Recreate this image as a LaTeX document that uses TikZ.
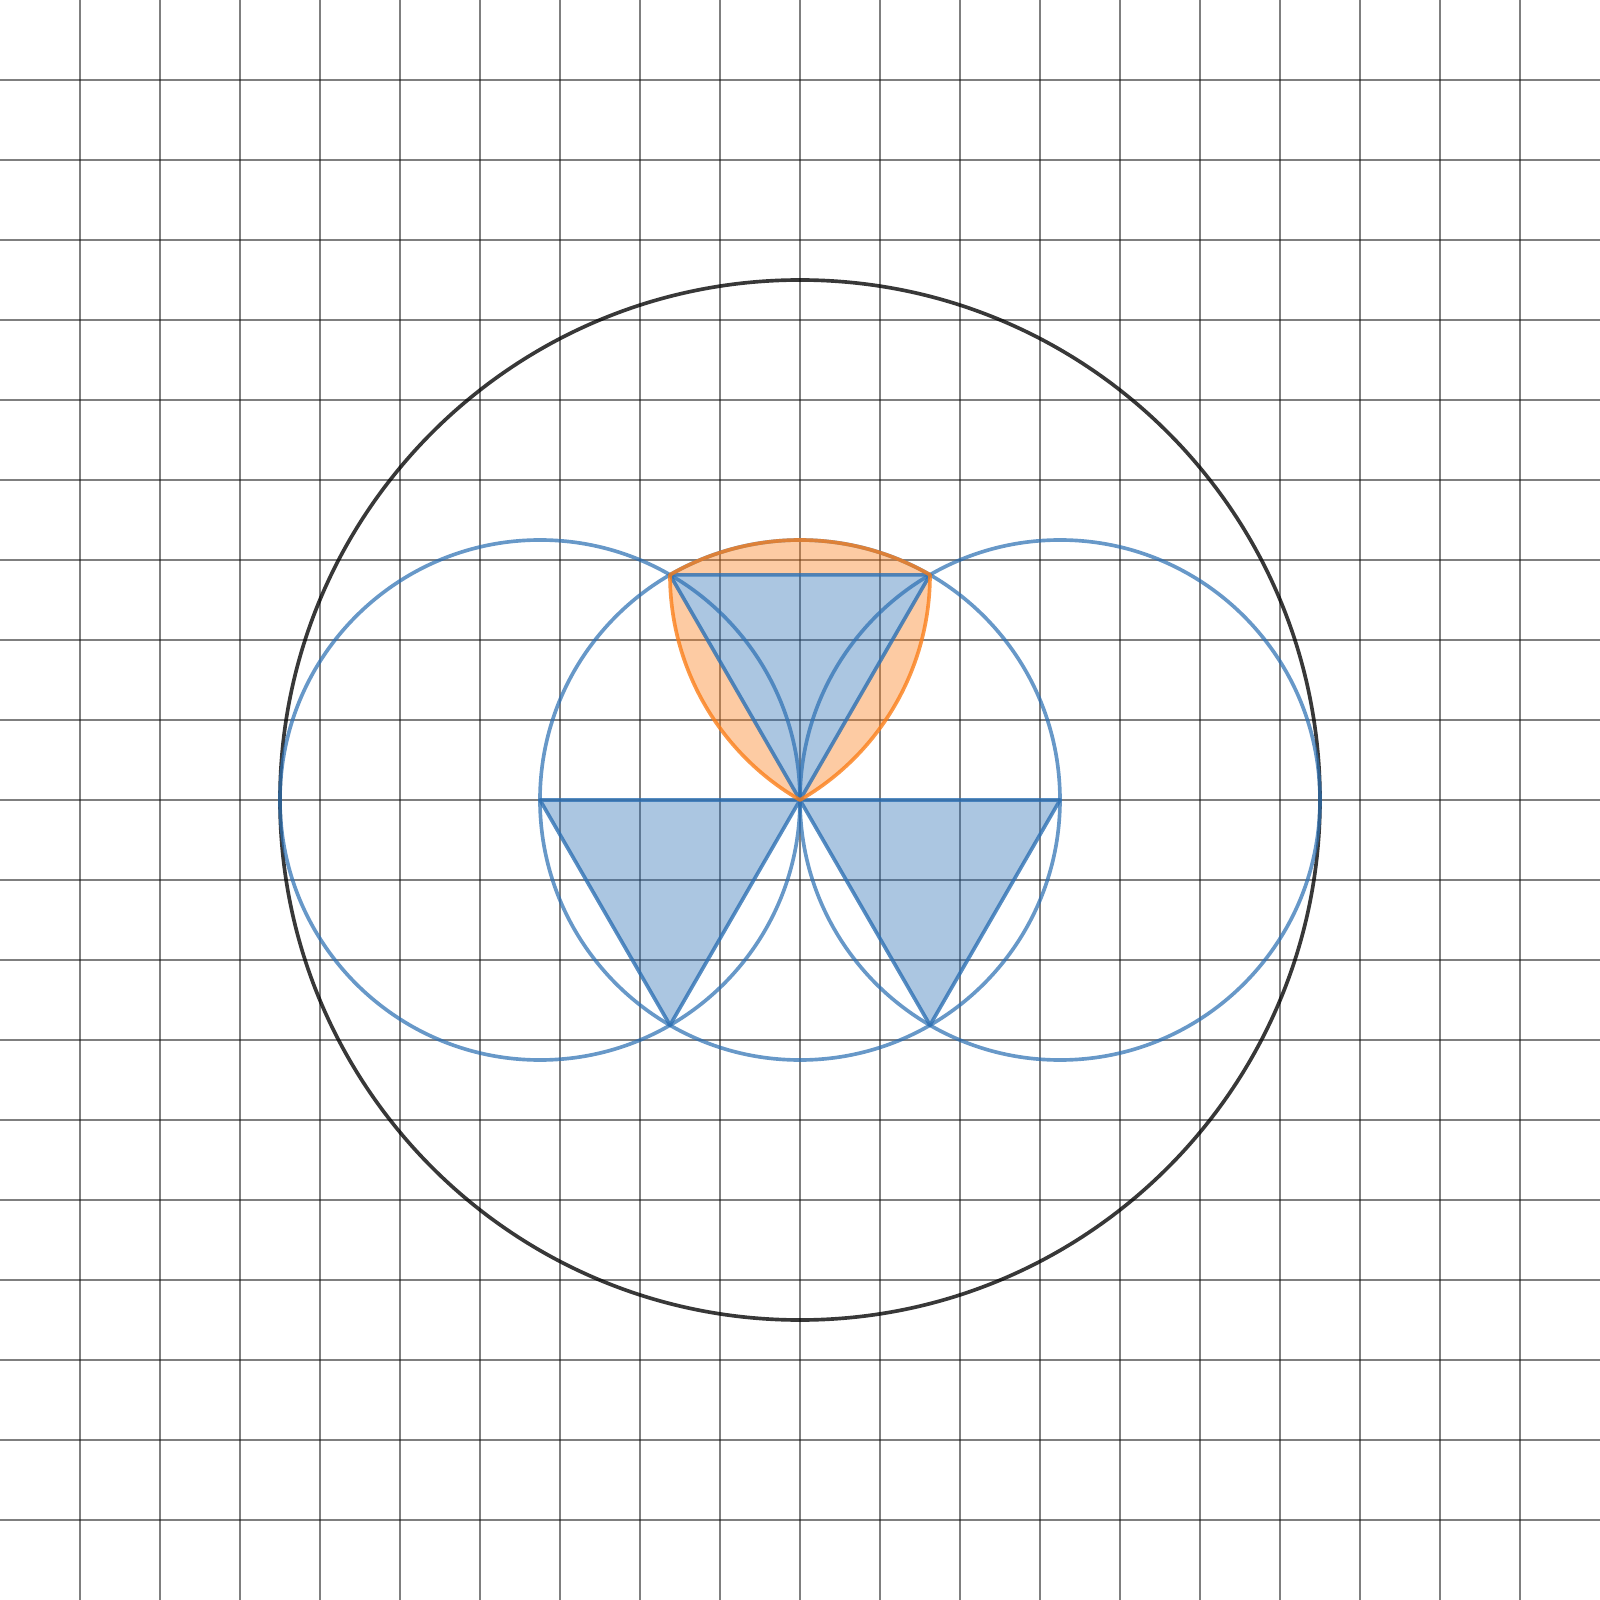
\documentclass[tikz,border=0pt]{standalone}
\usepackage{tikz}
\definecolor{dblue}{HTML}{2D70B3}
\definecolor{dorange}{HTML}{FA7E19}

\begin{document}
\begin{tikzpicture}[
    gridline/.style={draw=black, draw opacity=0.5, line width=0.45pt},
    bigcirc/.style={draw=black, draw opacity=0.78, line width=1.3pt},
    bluecirc/.style={draw=dblue, draw opacity=0.72, line width=1.3pt},
    bluetri/.style={draw=dblue, draw opacity=0.8, line width=1.3pt, fill=dblue, fill opacity=0.4, line join=round},
    orangefill/.style={fill=dorange, fill opacity=0.4, even odd rule},
    orangeline/.style={draw=dorange, draw opacity=0.8, line width=1.3pt, line join=round}
]
\useasboundingbox (-10,-10) rectangle (10,10);
% grid
\foreach \i in {-9,...,9} {
    \draw[gridline] (\i,-10) -- (\i,10);
    \draw[gridline] (-10,\i) -- (10,\i);
}
% points
\coordinate (O) at (0,0);
\coordinate (L) at (-3.25,0);
\coordinate (R) at (3.25,0);
\coordinate (A) at (120:3.25);
\coordinate (B) at (60:3.25);
\coordinate (C) at (240:3.25);
\coordinate (D) at (300:3.25);
% orange segments (Reuleaux minus triangle)
\fill[orangefill] (A) arc[start angle=120, end angle=60, radius=3.25]
    arc[start angle=0, end angle=-60, radius=3.25]
    arc[start angle=240, end angle=180, radius=3.25] -- cycle
    (A) -- (B) -- (O) -- cycle;
% triangles
\draw[bluetri] (A) -- (B) -- (O) -- cycle;
\draw[bluetri] (L) -- (O) -- (C) -- cycle;
\draw[bluetri] (O) -- (R) -- (D) -- cycle;
% big circle
\draw[bigcirc] (O) circle[radius=6.5];
% blue circles
\draw[bluecirc] (O) circle[radius=3.25];
\draw[bluecirc] (L) circle[radius=3.25];
\draw[bluecirc] (R) circle[radius=3.25];
% orange outline
\draw[orangeline] (A) arc[start angle=120, end angle=60, radius=3.25]
    arc[start angle=0, end angle=-60, radius=3.25]
    arc[start angle=240, end angle=180, radius=3.25] -- cycle;
\end{tikzpicture}
\end{document}
